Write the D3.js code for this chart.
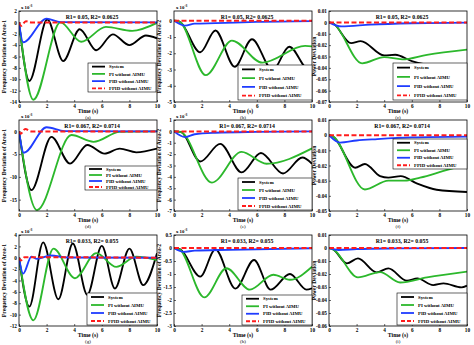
<!DOCTYPE html>
<html>
<head>
<meta charset="utf-8">
<script src="https://cdn.jsdelivr.net/npm/d3@7"></script>
<style>
  html, body { margin: 0; padding: 0; background: #fff; }
  svg { display: block; }
  text { font-family: "Liberation Serif", "Times New Roman", serif; font-weight: bold; fill: #000; }
</style>
</head>
<body>
<svg id="chart" width="474" height="345"></svg>
<script>
// ---- data: [time (s), deviation] ----
const seriesNames = ["System", "PI without AIMU", "PID without AIMU", "FPID without AIMU"];
const timeTicks = [0, 2, 4, 6, 8, 10];
const gainLabels = ["R1= 0.05, R2= 0.0625", "R1= 0.067, R2= 0.0714", "R1= 0.033, R2= 0.055"];
const panelLetters = ["(a)", "(b)", "(c)", "(d)", "(e)", "(f)", "(g)", "(h)", "(i)"];

// row 1 (R1 = 0.05, R2 = 0.0625) — frequency values in x10^-3
const a_sys  = [[0,0],[0.75,-10.3],[2.05,0.5],[3.2,-6.8],[4.4,-1.2],[5.6,-4.9],[6.8,-2.1],[8.0,-4.0],[9.2,-2.3],[10,-2.8]];
const a_pi   = [[0,0],[1.04,-13.6],[3.0,0],[4.5,-3.4],[6.3,-0.8],[8.2,-1.5],[10,-0.1]];
const a_pid  = [[0,0],[0.3,-3.5],[2.0,0.65],[3.0,0.05],[10,0]];
const a_fpid = [[0,0],[0.15,-0.6],[0.5,0.2],[0.9,0],[10,0]];

const b_sys  = [[0,0],[0.4,-0.05],[1.9,-1.94],[3.0,-0.6],[4.4,-2.83],[5.65,-1.14],[7.15,-3.04],[8.35,-1.6],[9.8,-3.04],[10,-3.0]];
const b_pi   = [[0,0],[0.4,-0.05],[2.3,-3.35],[4.2,-1.22],[6.4,-2.58],[9.5,-1.55],[10,-1.58]];
const b_pid  = [[0,0],[0.8,-0.3],[1.5,-0.18],[3,-0.15],[6,-0.07],[10,-0.02]];
const b_fpid = [[0,0],[10,0]];

const c_sys  = [[0,0],[0.3,-0.001],[1.6,-0.0182],[2.3,-0.0165],[4.0,-0.029],[4.8,-0.0285],[6.0,-0.034],[7.0,-0.037],[8.3,-0.0395],[10,-0.0395]];
const c_pi   = [[0,0],[0.3,-0.001],[2.4,-0.036],[4.0,-0.0305],[5.3,-0.0325],[7.1,-0.0285],[10,-0.024]];
const c_pid  = [[0,0],[0.9,-0.0035],[3,-0.002],[6,-0.0008],[10,-0.0002]];
const c_fpid = [[0,0],[10,0]];

// row 2 (R1 = 0.067, R2 = 0.0714)
const d_sys  = [[0,0],[0.9,-12.9],[2.35,-1.2],[3.7,-7.1],[4.95,-3.0],[6.2,-4.9],[7.3,-3.8],[8.5,-4.6],[10,-3.8]];
const d_pi   = [[0,0],[1.3,-17.3],[3.8,-0.8],[5.4,-2.3],[7.3,-0.1],[10,0]];
const d_pid  = [[0,0],[0.35,-4.7],[2.0,0.9],[3.3,0.05],[10,0]];
const d_fpid = [[0,0],[0.12,-0.5],[0.45,0.5],[0.9,0],[10,0]];

const e_sys  = [[0,0],[0.5,-0.05],[1.9,-2.65],[3.35,-1.1],[4.9,-3.6],[6.3,-1.9],[7.9,-3.7],[9.3,-2.3],[10,-2.85]];
const e_pi   = [[0,0],[0.5,-0.07],[2.75,-4.5],[4.9,-1.8],[6.7,-2.85],[10,-1.5]];
const e_pid  = [[0,0],[0.8,-0.5],[1.5,-0.25],[3,-0.12],[6,-0.04],[10,0]];
const e_fpid = [[0,0],[10,0]];

const f_sys  = [[0,0],[0.3,-0.001],[1.9,-0.0215],[2.6,-0.019],[3.7,-0.027],[4.3,-0.028],[5.2,-0.027],[6.4,-0.032],[7.8,-0.036],[10,-0.0375]];
const f_pi   = [[0,0],[0.3,-0.001],[2.6,-0.0358],[4.3,-0.030],[5.5,-0.030],[6.6,-0.028],[8.3,-0.0236],[10,-0.0192]];
const f_pid  = [[0,0],[0.8,-0.0049],[2,-0.0035],[3.5,-0.0026],[6,-0.0015],[10,-0.001]];
const f_fpid = [[0,0],[10,0]];

// row 3 (R1 = 0.033, R2 = 0.055)
const g_sys  = [[0,0],[0.75,-8.6],[1.75,2.7],[2.85,-7.3],[3.9,2.5],[4.95,-6.5],[6.0,2.1],[6.95,-5.4],[8.0,1.6],[9.0,-4.8],[10,0.8]];
const g_pi   = [[0,0],[1.04,-11.0],[2.5,1.6],[4.05,-3.6],[5.6,0.8],[7.05,-1.6],[8.5,0.2],[10,-0.4]];
const g_pid  = [[0,0],[0.3,-2.8],[0.9,0.2],[1.3,-0.2],[2.3,0.4],[3.5,0.05],[10,0]];
const g_fpid = [[0,0],[0.12,-0.5],[0.4,0.1],[10,0]];

const h_sys  = [[0,0],[0.45,-0.05],[1.9,-1.1],[3.0,-0.05],[4.45,-1.56],[5.8,-0.46],[7.0,-1.6],[8.4,-1.0],[9.6,-1.6],[10,-1.55]];
const h_pi   = [[0,0],[0.4,-0.05],[2.2,-1.9],[3.8,-0.78],[5.5,-1.6],[7.2,-1.03],[8.4,-1.22],[10,-0.72]];
const h_pid  = [[0,0],[0.7,-0.15],[1.5,-0.1],[4,-0.07],[10,-0.01]];
const h_fpid = [[0,0],[10,0]];

const i_sys  = [[0,0],[0.3,-0.001],[1.3,-0.0118],[2.1,-0.008],[3.45,-0.0188],[4.3,-0.0157],[5.65,-0.0252],[6.4,-0.0234],[7.55,-0.0285],[8.3,-0.0272],[9.6,-0.0303],[10,-0.029]];
const i_pi   = [[0,0],[0.3,-0.001],[2.1,-0.0226],[3.7,-0.0185],[5.15,-0.0265],[7.1,-0.0226],[10,-0.0182]];
const i_pid  = [[0,0],[0.7,-0.0015],[2,-0.0008],[5,-0.0003],[10,0]];
const i_fpid = [[0,0],[10,0]];

// y-axis tick values per panel
const yTicksA = [2,0,-2,-4,-6,-8,-10,-12,-14];
const yTicksB = [0,-1,-2,-3,-4,-5];
const yTicksC = [0.01,0,-0.01,-0.02,-0.03,-0.04,-0.05,-0.06,-0.07];
const yTicksD = [0,-5,-10,-15];
const yTicksE = [1,0,-1,-2,-3,-4,-5,-6,-7];
const yTicksF = [0.01,0,-0.01,-0.02,-0.03,-0.04,-0.05];
const yTicksG = [4,2,0,-2,-4,-6,-8,-10,-12];
const yTicksH = [0.5,0,-0.5,-1,-1.5,-2,-2.5,-3];
const yTicksI = [0.01,0,-0.01,-0.02,-0.03,-0.04,-0.05,-0.06];

// ---- layout ----
const colLeft = [19, 174, 329];
const rowTop = [11, 120, 235];
const plotW = 138, plotH = 91;
const colors = ["#000000", "#2cb82c", "#1f3cff", "#ff1c1c"];
const yTitles = ["Frequency Deviation of Area-1", "Frequency Deviation of Area-2", "Power Deviation"];

const panels = [
  { r:0, c:0, dom:[-14,2],     ticks:yTicksA, data:[a_sys,a_pi,a_pid,a_fpid], exp:true,  leg:[69,52,68,29] },
  { r:0, c:1, dom:[-5,0.6],    ticks:yTicksB, data:[b_sys,b_pi,b_pid,b_fpid], exp:true,  leg:[64,54,74,35] },
  { r:0, c:2, dom:[-0.07,0.01],ticks:yTicksC, data:[c_sys,c_pi,c_pid,c_fpid], exp:false, leg:[64,52,74,37] },
  { r:1, c:0, dom:[-17.5,2.5], ticks:yTicksD, data:[d_sys,d_pi,d_pid,d_fpid], exp:true,  leg:[66,46,72,24] },
  { r:1, c:1, dom:[-7,1],      ticks:yTicksE, data:[e_sys,e_pi,e_pid,e_fpid], exp:true,  leg:[64,58,74,32] },
  { r:1, c:2, dom:[-0.05,0.01],ticks:yTicksF, data:[f_sys,f_pi,f_pid,f_fpid], exp:false, leg:[64,19,74,30] },
  { r:2, c:0, dom:[-12,4],     ticks:yTicksG, data:[g_sys,g_pi,g_pid,g_fpid], exp:true,  leg:[68,58,70,32] },
  { r:2, c:1, dom:[-3,0.5],    ticks:yTicksH, data:[h_sys,h_pi,h_pid,h_fpid], exp:true,  leg:[68,60,70,30] },
  { r:2, c:2, dom:[-0.06,0.01],ticks:yTicksI, data:[i_sys,i_pi,i_pid,i_fpid], exp:false, leg:[68,58,70,32] }
];

const svg = d3.select("#chart");
const fmt = v => (Math.abs(v) < 1e-12 ? "0" : String(+v.toFixed(3)));

panels.forEach((p, idx) => {
  const left = colLeft[p.c], top = rowTop[p.r];
  const g = svg.append("g").attr("transform", `translate(${left},${top})`);
  const x = d3.scaleLinear().domain([0, 10]).range([0, plotW]);
  const y = d3.scaleLinear().domain(p.dom).range([plotH, 0]);

  const clipId = "clip" + idx;
  g.append("clipPath").attr("id", clipId).append("rect").attr("width", plotW).attr("height", plotH);

  // axes with inward ticks
  const xAxis = d3.axisBottom(x).tickValues(timeTicks).tickSize(-2).tickPadding(3).tickFormat(d3.format("d"));
  const yAxis = d3.axisLeft(y).tickValues(p.ticks).tickSize(-2).tickPadding(2).tickFormat(fmt);
  const gx = g.append("g").attr("transform", `translate(0,${plotH})`).call(xAxis);
  const gy = g.append("g").call(yAxis);
  [gx, gy].forEach(a => {
    a.select(".domain").remove();
    a.selectAll("line").attr("stroke", "#000").attr("stroke-width", 0.6);
    a.selectAll("text").style("font-size", "5.3px").style("font-weight", "bold")
      .style("font-family", '"Liberation Serif", serif');
  });
  gx.selectAll("text").attr("dy", "0.6em");

  // curves
  const line = d3.line().x(d => x(d[0])).y(d => y(d[1])).curve(d3.curveMonotoneX);
  const plot = g.append("g").attr("clip-path", `url(#${clipId})`);
  p.data.forEach((s, k) => {
    plot.append("path").datum(s).attr("d", line)
      .attr("fill", "none").attr("stroke", colors[k])
      .attr("stroke-width", k === 3 ? 2 : 1.85)
      .attr("stroke-dasharray", k === 3 ? "5,2.5" : null)
      .attr("stroke-linejoin", "round");
  });

  // frame
  g.append("rect").attr("width", plotW).attr("height", plotH)
    .attr("fill", "none").attr("stroke", "#000").attr("stroke-width", 0.8);

  // gain annotation
  g.append("text").attr("x", 73).attr("y", 8).attr("text-anchor", "middle")
    .style("font-size", "5.8px").text(gainLabels[p.r]);

  // exponent label
  if (p.exp) {
    const t = g.append("text").attr("x", 2).attr("y", -2.5).style("font-size", "4.8px");
    t.append("tspan").text("x 10");
    t.append("tspan").attr("dy", -2).style("font-size", "3.6px").text("-3");
  }

  // axis titles and panel letter
  g.append("text").attr("x", plotW / 2).attr("y", plotH + 11).attr("text-anchor", "middle")
    .style("font-size", "5.8px").text("Time (s)");
  g.append("text").attr("x", plotW / 2).attr("y", plotH + 16.5).attr("text-anchor", "middle")
    .style("font-size", "5px").style("font-weight", "normal").text(panelLetters[idx]);
  g.append("text").attr("transform", `translate(${-13},${plotH / 2}) rotate(-90)`)
    .attr("text-anchor", "middle").style("font-size", "5.6px").text(yTitles[p.c]);

  // legend
  const [lx, ly, lw, lh] = p.leg;
  const lg = g.append("g").attr("transform", `translate(${lx},${ly})`);
  lg.append("rect").attr("width", lw).attr("height", lh).attr("fill", "#fff")
    .attr("stroke", "#000").attr("stroke-width", 0.6);
  const rowH = lh / 4;
  seriesNames.forEach((name, k) => {
    const cy = rowH * (k + 0.5);
    lg.append("line").attr("x1", 4).attr("x2", 17).attr("y1", cy).attr("y2", cy)
      .attr("stroke", colors[k]).attr("stroke-width", 1.8)
      .attr("stroke-dasharray", k === 3 ? "4,2" : null);
    lg.append("text").attr("x", 21).attr("y", cy).attr("dy", "0.35em")
      .style("font-size", "4.8px").text(name);
  });
});
</script>
</body>
</html>
